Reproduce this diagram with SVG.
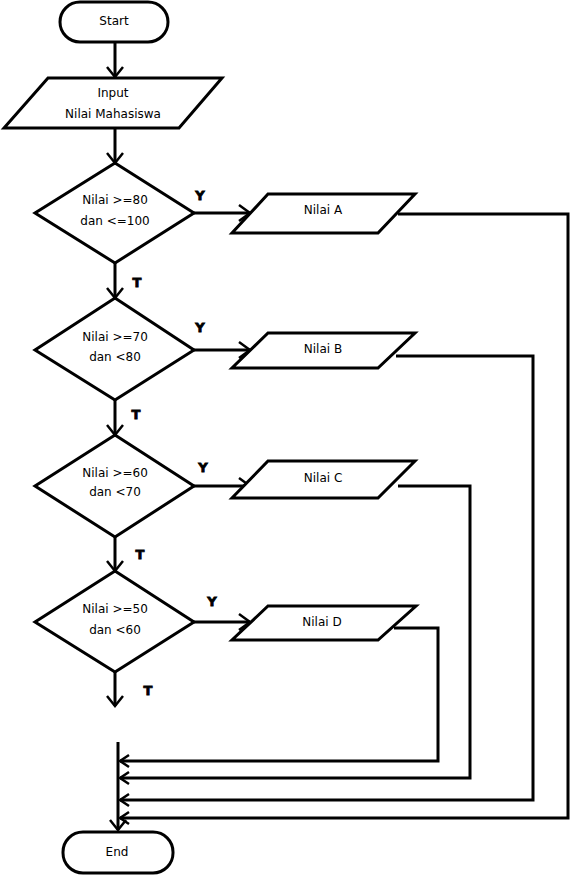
<svg xmlns="http://www.w3.org/2000/svg" width="570" height="875" viewBox="0 0 570 875">
<style>
.shape{fill:#fff;stroke:#000;stroke-width:3;stroke-linejoin:miter}
.line{fill:none;stroke:#000;stroke-width:3}
.ah{fill:none;stroke:#000;stroke-width:2.5}
.t{font-family:"DejaVu Sans",sans-serif;font-size:12px;fill:#000;text-anchor:middle;dominant-baseline:central}
.lbl{font-family:"DejaVu Sans",sans-serif;font-size:13px;font-weight:900;fill:#000;stroke:#000;stroke-width:0.8;text-anchor:middle;dominant-baseline:central}
</style>
<rect width="570" height="875" fill="#fff"/>
<g id="connectors">
<path class="line" d="M115,42 V77"/><path class="ah" d="M107,67 L115,77 L123,67"/>
<path class="line" d="M115,128 V163"/><path class="ah" d="M107,153 L115,163 L123,153"/>
<path class="line" d="M115,263 V298"/><path class="ah" d="M107,288 L115,298 L123,288"/>
<path class="line" d="M115,400 V435"/><path class="ah" d="M107,425 L115,435 L123,425"/>
<path class="line" d="M115,537 V571"/><path class="ah" d="M107,561 L115,571 L123,561"/>
<path class="line" d="M115,672 V706"/><path class="ah" d="M107,696 L115,706 L123,696"/>
<path class="line" d="M194,213 H250"/><path class="ah" d="M239,205 L250,213 L239,221"/>
<path class="line" d="M194,350 H250"/><path class="ah" d="M239,342 L250,350 L239,358"/>
<path class="line" d="M194,486 H250"/><path class="ah" d="M239,478 L250,486 L239,494"/>
<path class="line" d="M194,622 H250"/><path class="ah" d="M239,614 L250,622 L239,630"/>
<path class="line" d="M398,214 H568 V818 H120"/><path class="ah" d="M129,812 L120,818 L129,824"/>
<path class="line" d="M396,356 H533 V800 H120"/><path class="ah" d="M129,794 L120,800 L129,806"/>
<path class="line" d="M398,486 H470 V778 H120"/><path class="ah" d="M129,772 L120,778 L129,784"/>
<path class="line" d="M394,628 H438 V761 H120"/><path class="ah" d="M129,755 L120,761 L129,767"/>
<path class="line" d="M118,742 V830"/><path class="ah" d="M110,820 L118,830 L126,820"/>
<text class="lbl" x="200" y="195">Y</text>
<text class="lbl" x="137" y="282">T</text>
<text class="lbl" x="200" y="327">Y</text>
<text class="lbl" x="136" y="414">T</text>
<text class="lbl" x="203" y="467">Y</text>
<text class="lbl" x="140" y="554">T</text>
<text class="lbl" x="212" y="601">Y</text>
<text class="lbl" x="148" y="690">T</text>
</g>
<g id="start">
<rect class="shape" x="60" y="2" width="108" height="40" rx="20"/>
<text class="t" x="114" y="21">Start</text>
</g>
<g id="input">
<polygon class="shape" points="48,78 222,78 179,128 4,128"/>
<text class="t" x="113" y="93">Input</text>
<text class="t" x="113" y="114">Nilai Mahasiswa</text>
</g>
<g id="d1">
<polygon class="shape" points="115,163 194,213 115,263 35,213"/>
<text class="t" x="115" y="200">Nilai &gt;=80</text>
<text class="t" x="115" y="221">dan &lt;=100</text>
</g>
<g id="nilaiA">
<polygon class="shape" points="268,194 415,194 378,233 232,233"/>
<text class="t" x="323" y="210">Nilai A</text>
</g>
<g id="d2">
<polygon class="shape" points="115,298 194,350 115,400 35,350"/>
<text class="t" x="115" y="337">Nilai &gt;=70</text>
<text class="t" x="115" y="357">dan &lt;80</text>
</g>
<g id="nilaiB">
<polygon class="shape" points="268,333 415,333 378,368 232,368"/>
<text class="t" x="323" y="349">Nilai B</text>
</g>
<g id="d3">
<polygon class="shape" points="115,435 194,486 115,537 35,486"/>
<text class="t" x="115" y="473">Nilai &gt;=60</text>
<text class="t" x="115" y="492">dan &lt;70</text>
</g>
<g id="nilaiC">
<polygon class="shape" points="268,461 415,461 378,498 232,498"/>
<text class="t" x="323" y="478">Nilai C</text>
</g>
<g id="d4">
<polygon class="shape" points="115,571 194,622 115,672 35,622"/>
<text class="t" x="115" y="609">Nilai &gt;=50</text>
<text class="t" x="115" y="630">dan &lt;60</text>
</g>
<g id="nilaiD">
<polygon class="shape" points="268,606 416,606 378,640 232,640"/>
<text class="t" x="322" y="622">Nilai D</text>
</g>
<g id="end">
<rect class="shape" x="63" y="832" width="110" height="41" rx="20"/>
<text class="t" x="117" y="852">End</text>
</g>
</svg>
